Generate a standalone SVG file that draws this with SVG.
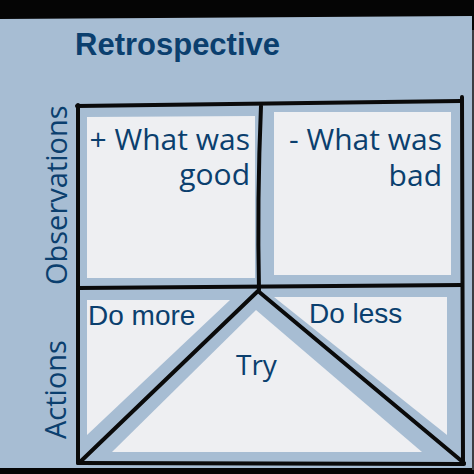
<svg xmlns="http://www.w3.org/2000/svg" width="474" height="474" viewBox="0 0 474 474">
<style>
.cell{fill:#eeeff2}
.ln{stroke:#0a0a0a;stroke-width:4;fill:none;stroke-linecap:round;stroke-linejoin:round}
.t{fill:#0b3f6e;font-family:"Open Sans","Liberation Sans",sans-serif;font-size:30px}
.s{fill:#0b3f6e;font-family:"Liberation Sans",Arial,sans-serif;font-size:28px}
</style>
<rect x="0" y="0" width="474" height="474" fill="#050505"/>
<polygon points="0,19 472,16 472,468 0,468" fill="#a7bdd3"/>
<rect x="472" y="30" width="2" height="440" fill="#3a3d42"/>
<text x="75" y="55" style="fill:#0b3f6e;font-family:'Liberation Sans',Arial,sans-serif;font-size:31px;font-weight:bold">Retrospective</text>
<g id="label-observations"><text class="t" transform="translate(67,285) rotate(-90)" style="font-size:29px">Observations</text></g>
<g id="label-actions"><text class="t" transform="translate(66,439) rotate(-90)" style="font-size:29px">Actions</text></g>
<g id="good">
<polygon class="cell" points="87,117 255,116 255,278 87,278"/>
<text class="t" x="250" y="150" text-anchor="end">+ What was</text>
<text class="t" x="250" y="185" text-anchor="end">good</text>
</g>
<g id="bad">
<polygon class="cell" points="274,112 451,112 451,275 274,275"/>
<text class="t" x="442" y="150" text-anchor="end">- What was</text>
<text class="t" x="442" y="186" text-anchor="end">bad</text>
</g>
<g id="do-more">
<polygon class="cell" points="87,300 230,300 87,435"/>
<text class="s" x="88" y="325">Do more</text>
</g>
<g id="do-less">
<polygon class="cell" points="274,297 447,297 447,435"/>
<text class="s" x="309" y="323">Do less</text>
</g>
<g id="try">
<polygon class="cell" points="256,310 422,452 112,452"/>
<text class="t" x="236" y="375" style="font-size:28px">Try</text>
</g>
<g id="connectors">
<path class="ln" d="M77,106 L461,101"/>
<path class="ln" d="M78,105 L78,463"/>
<path class="ln" d="M462,97 L463,463"/>
<path class="ln" d="M78,463 L464,464"/>
<path class="ln" d="M78,288 L462,285"/>
<path class="ln" d="M261,106 Q257,200 259,290"/>
<path class="ln" d="M80,462 L258,291 L464,463"/>
</g>
</svg>
